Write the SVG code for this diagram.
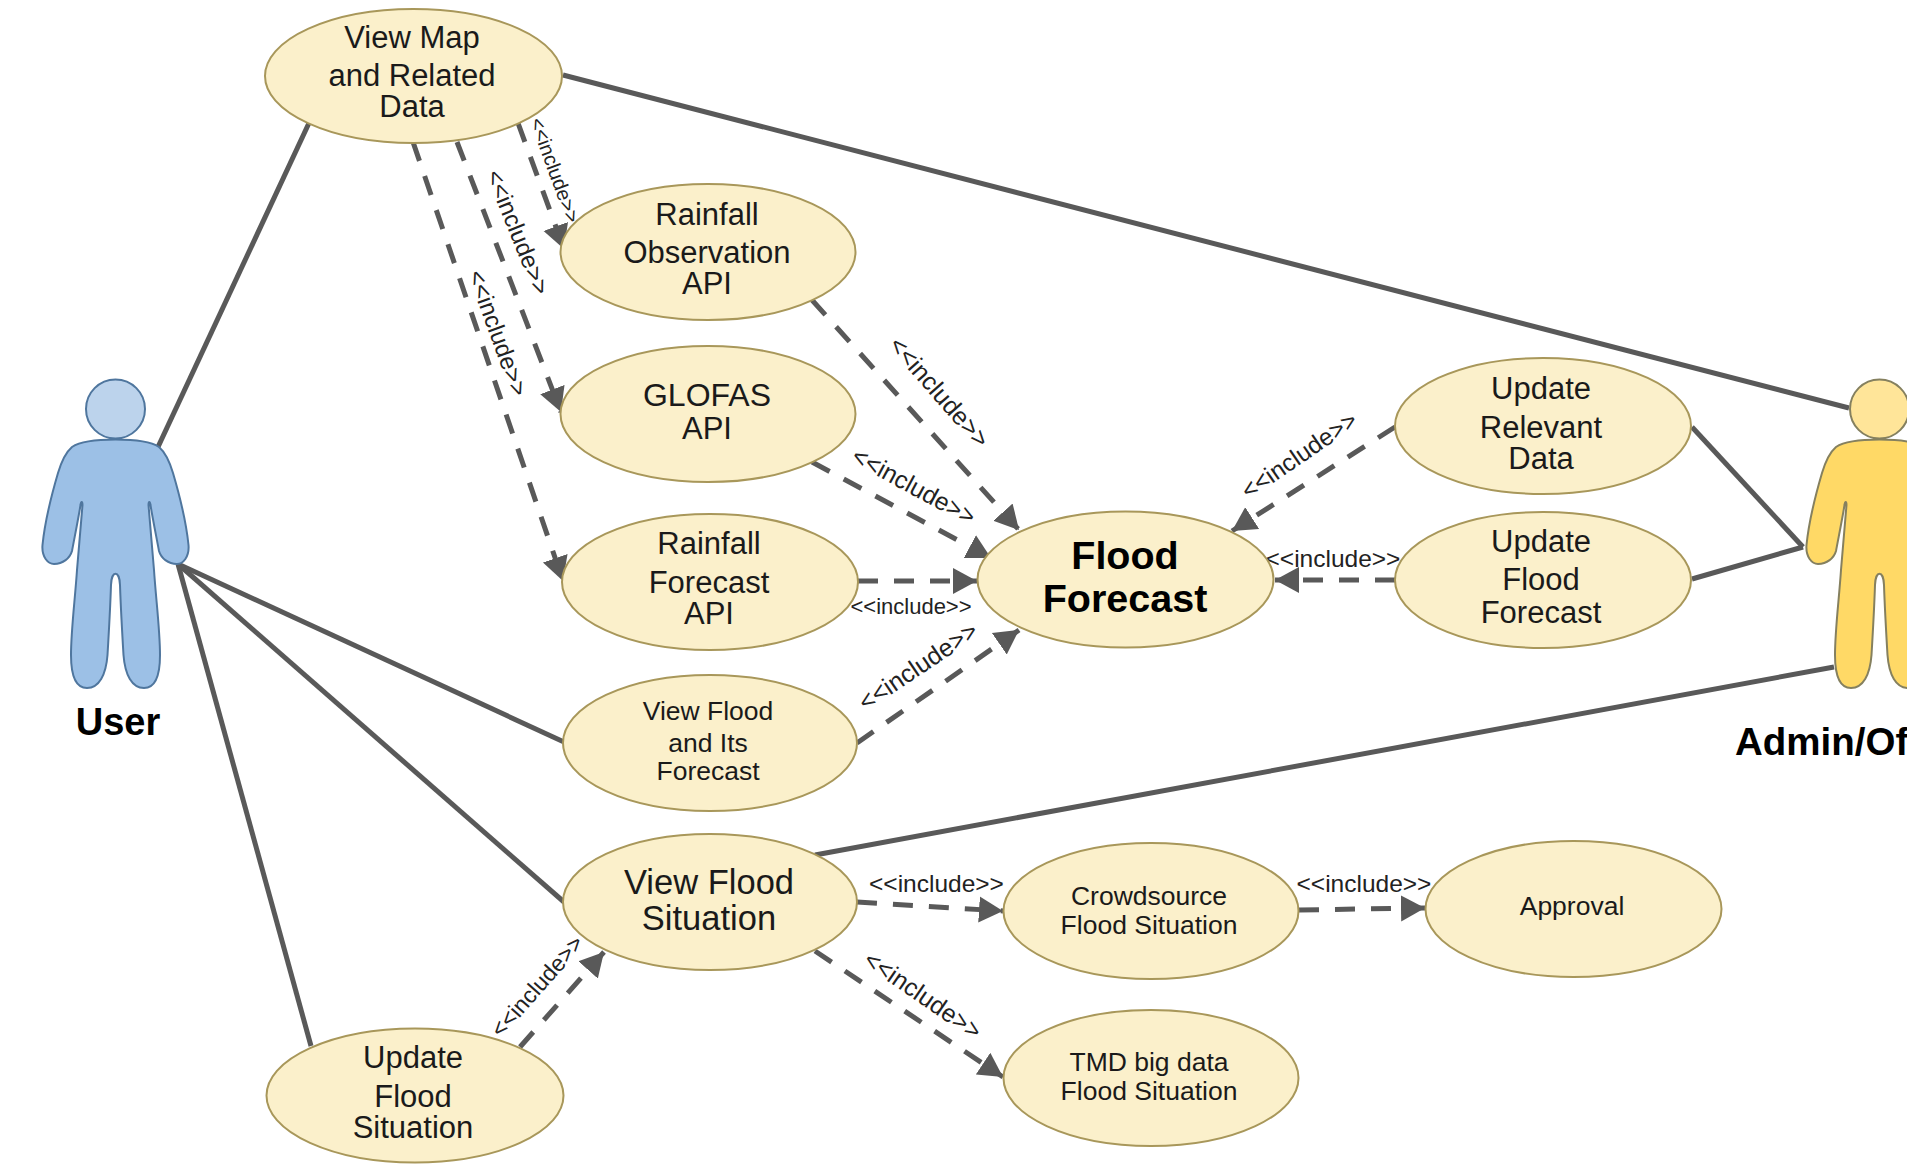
<svg xmlns="http://www.w3.org/2000/svg" width="1907" height="1176" viewBox="0 0 1907 1176">
<style>
text{font-family:"Liberation Sans",Arial,sans-serif;fill:#1a1a1a;text-anchor:middle}
.uc ellipse{fill:#fbf0cb;stroke:#a8975a;stroke-width:2}
.n30{font-size:31px}.n26{font-size:26.5px}.n34{font-size:34.5px}
.b{font-weight:bold;fill:#000}
.s{fill:none;stroke:#595959;stroke-width:5}
.d{fill:none;stroke:#595959;stroke-width:5;stroke-dasharray:20 16;marker-end:url(#arrow)}
.inc text{fill:#222}
</style>
<defs>
<marker id="arrow" markerUnits="userSpaceOnUse" markerWidth="26" markerHeight="28" refX="24" refY="13" orient="auto" viewBox="0 0 26 26"><path d="M0 0L24 13L0 26Z" fill="#595959"/></marker>
<path id="body" d="M115.5 439.5C135 439.5 150 441 159 447C166 453 170 463 173 473C178 490 186 520 188.5 545C189.5 557 183 564 177 564C168 564 161 558 159 551C156 535 152 515 150.5 505C150 501 148.5 501 148.5 505C150 525 152 545 154 570C156 600 160 630 160 655C160 675 155 688 144 688C132 688 125 675 123.5 655C122 630 120.5 600 120 585C119.5 570 111.5 570 111 585C110.5 600 109 630 107.5 655C106 675 99 688 87 688C76 688 71 675 71 655C71 630 75 600 77 570C79 545 81 525 82.5 505C82.5 501 81 501 80.5 505C79 515 75 535 72 551C70 558 63 564 54 564C48 564 41.5 557 42.5 545C45 520 53 490 58 473C61 463 65 453 72 447C81 441 96 439.5 115.5 439.5Z"/>
</defs>
<rect width="1907" height="1176" fill="#fff"/>
<g id="connectors">
<line class="s" x1="158" y1="447" x2="309" y2="123"/>
<line class="s" x1="178" y1="564" x2="564" y2="742"/>
<line class="s" x1="178" y1="564" x2="564" y2="902"/>
<line class="s" x1="178" y1="564" x2="311" y2="1046"/>
<line class="s" x1="563" y1="75" x2="1849" y2="408"/>
<line class="s" x1="1692" y1="427" x2="1803" y2="547"/>
<line class="s" x1="1692" y1="579" x2="1803" y2="547"/>
<line class="s" x1="815" y1="855" x2="1834" y2="667"/>
<line class="d" x1="518" y1="123" x2="564" y2="249"/>
<line class="d" x1="457" y1="142" x2="561" y2="412"/>
<line class="d" x1="413" y1="142" x2="563" y2="581"/>
<line class="d" x1="812" y1="300" x2="1019" y2="530"/>
<line class="d" x1="812" y1="462" x2="991" y2="558"/>
<line class="d" x1="858" y1="581" x2="977" y2="581"/>
<line class="d" x1="857" y1="743" x2="1019" y2="630"/>
<line class="d" x1="1395" y1="427" x2="1232" y2="531"/>
<line class="d" x1="1395" y1="580" x2="1275" y2="580"/>
<line class="d" x1="857" y1="902" x2="1003" y2="911"/>
<line class="d" x1="1299" y1="910" x2="1425" y2="908"/>
<line class="d" x1="815" y1="951" x2="1003" y2="1077"/>
<line class="d" x1="520" y1="1047" x2="604" y2="952"/>
</g>
<g id="include-labels" class="inc">
<text transform="translate(555 170) rotate(70)" dy=".35em" font-size="20">&lt;&lt;include&gt;&gt;</text>
<text transform="translate(518 232) rotate(68)" dy=".35em" font-size="24">&lt;&lt;include&gt;&gt;</text>
<text transform="translate(498 333) rotate(70)" dy=".35em" font-size="24">&lt;&lt;include&gt;&gt;</text>
<text transform="translate(939.5 392) rotate(48.8)" dy=".35em" font-size="25">&lt;&lt;include&gt;&gt;</text>
<text transform="translate(914 486) rotate(28.4)" dy=".35em" font-size="24.7">&lt;&lt;include&gt;&gt;</text>
<text transform="translate(911 606)" dy=".35em" font-size="22">&lt;&lt;include&gt;&gt;</text>
<text transform="translate(918 666) rotate(-34)" dy=".35em" font-size="25">&lt;&lt;include&gt;&gt;</text>
<text transform="translate(1299 455) rotate(-34.4)" dy=".35em" font-size="24.4">&lt;&lt;include&gt;&gt;</text>
<text transform="translate(1333 558)" dy=".35em" font-size="24.5">&lt;&lt;include&gt;&gt;</text>
<text transform="translate(936.5 883)" dy=".35em" font-size="24.5">&lt;&lt;include&gt;&gt;</text>
<text transform="translate(1364 883)" dy=".35em" font-size="24.5">&lt;&lt;include&gt;&gt;</text>
<text transform="translate(923 995) rotate(34.5)" dy=".35em" font-size="24.7">&lt;&lt;include&gt;&gt;</text>
<text transform="translate(537 986) rotate(-48.5)" dy=".35em" font-size="23">&lt;&lt;include&gt;&gt;</text>
</g>
<g id="actor-user">
<use href="#body" fill="#9cc0e6" stroke="#4f769e" stroke-width="2"/>
<circle cx="115.5" cy="409" r="29.5" fill="#bcd3ec" stroke="#4f769e" stroke-width="2"/>
<text class="b" x="118" y="735" font-size="38">User</text>
</g>
<g id="actor-admin">
<use href="#body" x="1764" fill="#ffd966" stroke="#85805f" stroke-width="2"/>
<circle cx="1879.5" cy="409" r="29.5" fill="#ffe599" stroke="#85805f" stroke-width="2"/>
<text class="b" x="1735" y="755" font-size="38.5" style="text-anchor:start">Admin/Of</text>
</g>
<g id="uc-view-map" class="uc"><ellipse cx="413.5" cy="76" rx="148.5" ry="67"/><g class="n30"><text x="412" y="48">View Map</text><text x="412" y="86">and Related</text><text x="412" y="117">Data</text></g></g>
<g id="uc-rain-obs" class="uc"><ellipse cx="708" cy="252" rx="147.5" ry="68"/><g class="n30"><text x="707" y="225">Rainfall</text><text x="707" y="263">Observation</text><text x="707" y="294">API</text></g></g>
<g id="uc-glofas" class="uc"><ellipse cx="708" cy="414" rx="147.5" ry="68"/><g class="n30"><text x="707" y="406" style="font-size:32px">GLOFAS</text><text x="707" y="439">API</text></g></g>
<g id="uc-rain-fc" class="uc"><ellipse cx="710" cy="582" rx="148" ry="68"/><g class="n30"><text x="709" y="554">Rainfall</text><text x="709" y="593">Forecast</text><text x="709" y="624">API</text></g></g>
<g id="uc-view-flood-fc" class="uc"><ellipse cx="710" cy="743" rx="147" ry="68"/><g class="n26"><text x="708" y="720">View Flood</text><text x="708" y="752">and Its</text><text x="708" y="780">Forecast</text></g></g>
<g id="uc-view-flood-sit" class="uc"><ellipse cx="710" cy="902" rx="147" ry="68"/><g class="n34"><text x="709" y="894">View Flood</text><text x="709" y="930">Situation</text></g></g>
<g id="uc-update-flood-sit" class="uc"><ellipse cx="415" cy="1095.5" rx="148.5" ry="67"/><g class="n30"><text x="413" y="1068">Update</text><text x="413" y="1107">Flood</text><text x="413" y="1138">Situation</text></g></g>
<g id="uc-flood-forecast" class="uc"><ellipse cx="1125.5" cy="579.5" rx="148" ry="68"/><g class="b" font-size="39.5"><text class="b" x="1125" y="569">Flood</text><text class="b" x="1125" y="612">Forecast</text></g></g>
<g id="uc-update-relevant" class="uc"><ellipse cx="1543" cy="426" rx="148" ry="68"/><g class="n30"><text x="1541" y="399">Update</text><text x="1541" y="438">Relevant</text><text x="1541" y="469">Data</text></g></g>
<g id="uc-update-ff" class="uc"><ellipse cx="1543" cy="580" rx="148" ry="68"/><g class="n30"><text x="1541" y="552">Update</text><text x="1541" y="590">Flood</text><text x="1541" y="623">Forecast</text></g></g>
<g id="uc-crowdsource" class="uc"><ellipse cx="1151" cy="911" rx="147.5" ry="68"/><g class="n26"><text x="1149" y="905">Crowdsource</text><text x="1149" y="934">Flood Situation</text></g></g>
<g id="uc-approval" class="uc"><ellipse cx="1573.5" cy="909" rx="148" ry="68"/><text class="n26" x="1572" y="915">Approval</text></g>
<g id="uc-tmd" class="uc"><ellipse cx="1151" cy="1078" rx="147.5" ry="68"/><g class="n26"><text x="1149" y="1071">TMD big data</text><text x="1149" y="1100">Flood Situation</text></g></g>
</svg>
